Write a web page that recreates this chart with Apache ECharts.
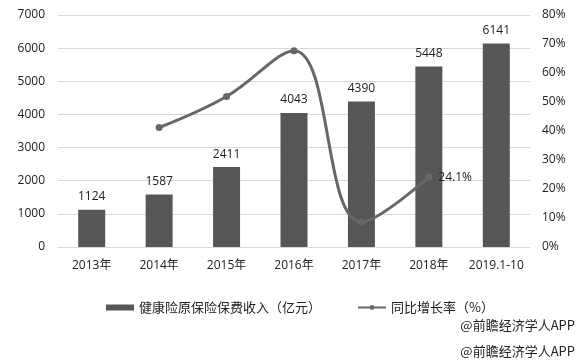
<!DOCTYPE html>
<html>
<head>
<meta charset="utf-8">
<script src="https://cdn.jsdelivr.net/npm/echarts@6/dist/echarts.min.js"></script>
<style>
html,body{margin:0;padding:0;background:#fff;}
#c{width:581px;height:362px;}
</style>
</head>
<body>
<div id="c"></div>
<script>
var categories = ['2013年','2014年','2015年','2016年','2017年','2018年','2019.1-10'];
var premium = [1124, 1587, 2411, 4043, 4390, 5448, 6141];
var growth = [null, 41.2, 51.9, 67.7, 8.6, 24.1, null];
var leftTicks = [0, 1000, 7000];
var seriesNames = ['健康险原保险保费收入（亿元）', '同比增长率（%）'];
var sourceText = '@前瞻经济学人APP';

var font = '"Open Sans","Noto Sans CJK SC",sans-serif';
var chart = echarts.init(document.getElementById('c'));
chart.setOption({
  animation: false,
  backgroundColor: '#fff',
  textStyle: {fontFamily: font},
  grid: {left: 58, right: 51, top: 15, bottom: 115, containLabel: false},
  legend: {
    left: 101, top: 296,
    itemWidth: 28, itemHeight: 6, itemGap: 36,
    textStyle: {fontSize: 13, color: '#222', fontFamily: '"Noto Sans CJK SC",sans-serif'},
    data: [
      {name: seriesNames[0], icon: 'rect'},
      {name: seriesNames[1]}
    ]
  },
  graphic: [
    {type: 'text', right: 6, top: 319, style: {text: sourceText, fill: '#222', font: '13px "Noto Sans CJK SC",sans-serif'}},
    {type: 'text', right: 6, top: 345, style: {text: sourceText, fill: '#222', font: '13px "Noto Sans CJK SC",sans-serif'}}
  ],
  xAxis: {
    type: 'category',
    data: categories,
    axisLine: {show: true, lineStyle: {color: '#d9d9d9'}},
    axisTick: {show: false},
    axisLabel: {color: '#222', fontSize: 12, margin: 13, interval: 0}
  },
  yAxis: [
    {
      type: 'value', min: leftTicks[0], max: leftTicks[2], interval: leftTicks[1],
      axisLine: {show: false}, axisTick: {show: false},
      axisLabel: {color: '#222', fontSize: 12, margin: 13, formatter: function (v) { return String(v); }},
      splitLine: {lineStyle: {color: '#d9d9d9'}}
    },
    {
      type: 'value', min: 0, max: 80, interval: 10,
      axisLine: {show: false}, axisTick: {show: false},
      axisLabel: {color: '#222', fontSize: 12, margin: 12, formatter: '{value}%'},
      splitLine: {show: false}
    }
  ],
  series: [
    {
      name: seriesNames[0], type: 'bar', data: premium,
      barWidth: 27,
      itemStyle: {color: '#565656'},
      label: {show: true, position: 'top', distance: 7, color: '#222', fontSize: 12}
    },
    {
      name: seriesNames[1], type: 'line', yAxisIndex: 1, data: growth,
      smooth: 0.4,
      symbol: 'circle', symbolSize: 7,
      lineStyle: {color: '#676767', width: 3},
      itemStyle: {color: '#676767'},
      label: {
        show: true, position: 'right', distance: 6, color: '#222', fontSize: 12,
        formatter: function (p) { return p.dataIndex === 5 ? p.value + '%' : ''; }
      }
    }
  ]
});
</script>
</body>
</html>
